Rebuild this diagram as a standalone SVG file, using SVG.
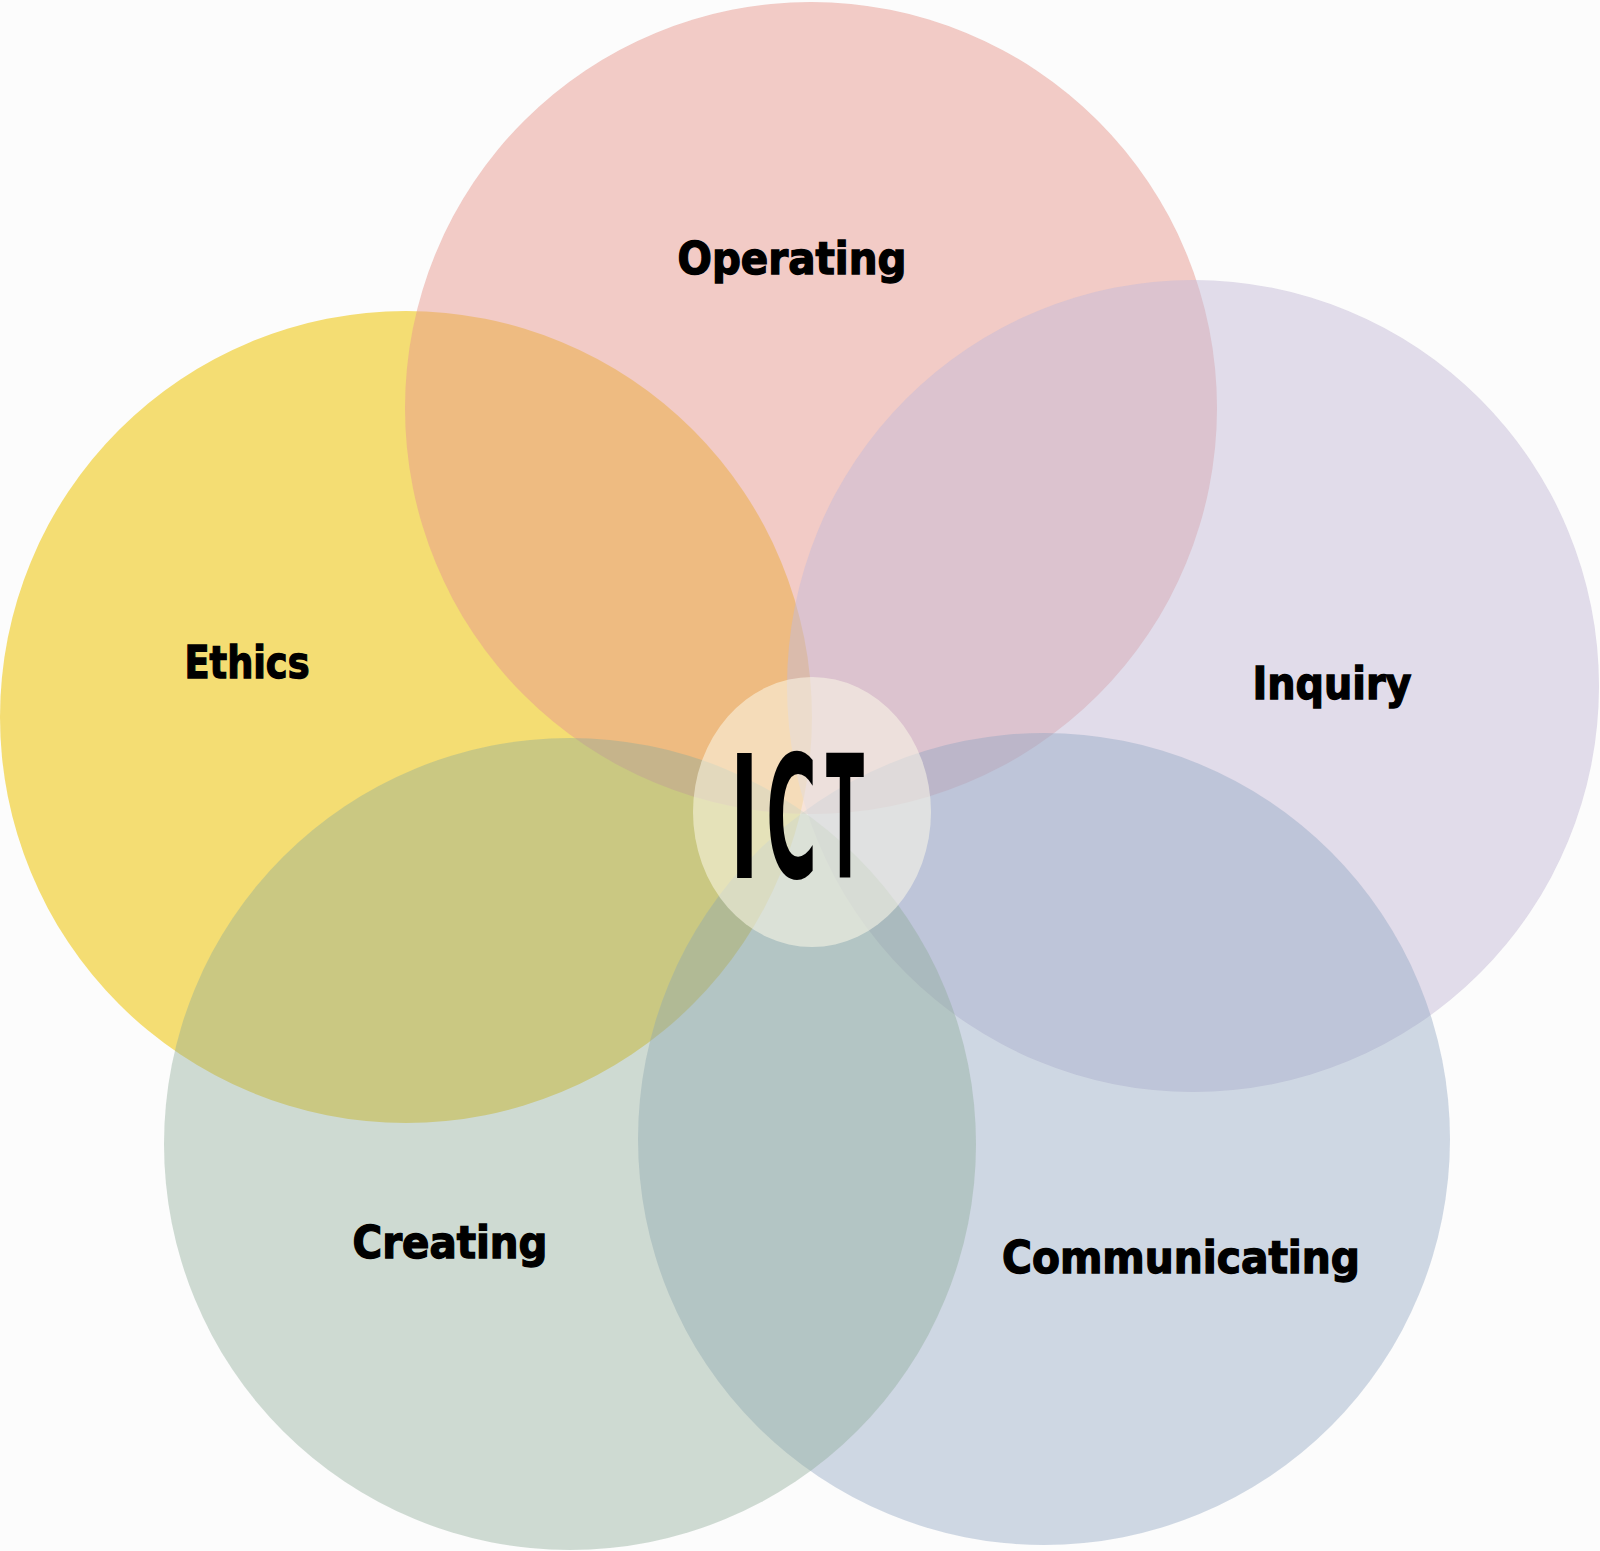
<svg xmlns="http://www.w3.org/2000/svg" width="1600" height="1551" viewBox="0 0 1600 1551">
<style>
.lbl{font-family:"DejaVu Sans","Liberation Sans",sans-serif;font-weight:bold;font-size:44px;fill:#000;stroke:#000;stroke-width:1.4px;text-anchor:middle}
.ict{font-family:"DejaVu Sans Condensed","DejaVu Sans","Liberation Sans",sans-serif;font-weight:bold;font-size:172px;fill:#000}
</style>
<rect width="1600" height="1551" fill="#fcfcfc"/>
<g id="ethics">
<circle cx="406" cy="717" r="406" fill="#f4dd73"/>
</g>
<g id="operating">
<circle cx="811" cy="408" r="406" fill="#e89a90" fill-opacity="0.5"/>
</g>
<g id="inquiry">
<circle cx="1193" cy="686" r="406" fill="#c6bcd8" fill-opacity="0.5"/>
</g>
<g id="communicating">
<circle cx="1044" cy="1139" r="406" fill="#8ea4c2" fill-opacity="0.42"/>
</g>
<g id="creating">
<circle cx="570" cy="1144" r="406" fill="#8fac98" fill-opacity="0.42"/>
</g>
<g id="ict">
<ellipse cx="812" cy="812" rx="119" ry="135" fill="#fbf8e8" fill-opacity="0.55"/>
<text class="ict" transform="translate(730,878) scale(0.5,1)">I</text>
<text class="ict" transform="translate(766,878) scale(0.45,1)">C</text>
<text class="ict" transform="translate(826,878) scale(0.36,1)">T</text>
</g>
<g id="labels">
<text class="lbl" x="792" y="274" textLength="229" lengthAdjust="spacingAndGlyphs">Operating</text>
<text class="lbl" x="247" y="678" textLength="125" lengthAdjust="spacingAndGlyphs">Ethics</text>
<text class="lbl" x="1332" y="699" textLength="159" lengthAdjust="spacingAndGlyphs">Inquiry</text>
<text class="lbl" x="450" y="1258" textLength="195" lengthAdjust="spacingAndGlyphs">Creating</text>
<text class="lbl" x="1181" y="1273" textLength="358" lengthAdjust="spacingAndGlyphs">Communicating</text>
</g>
<g id="connectors"/>
</svg>
